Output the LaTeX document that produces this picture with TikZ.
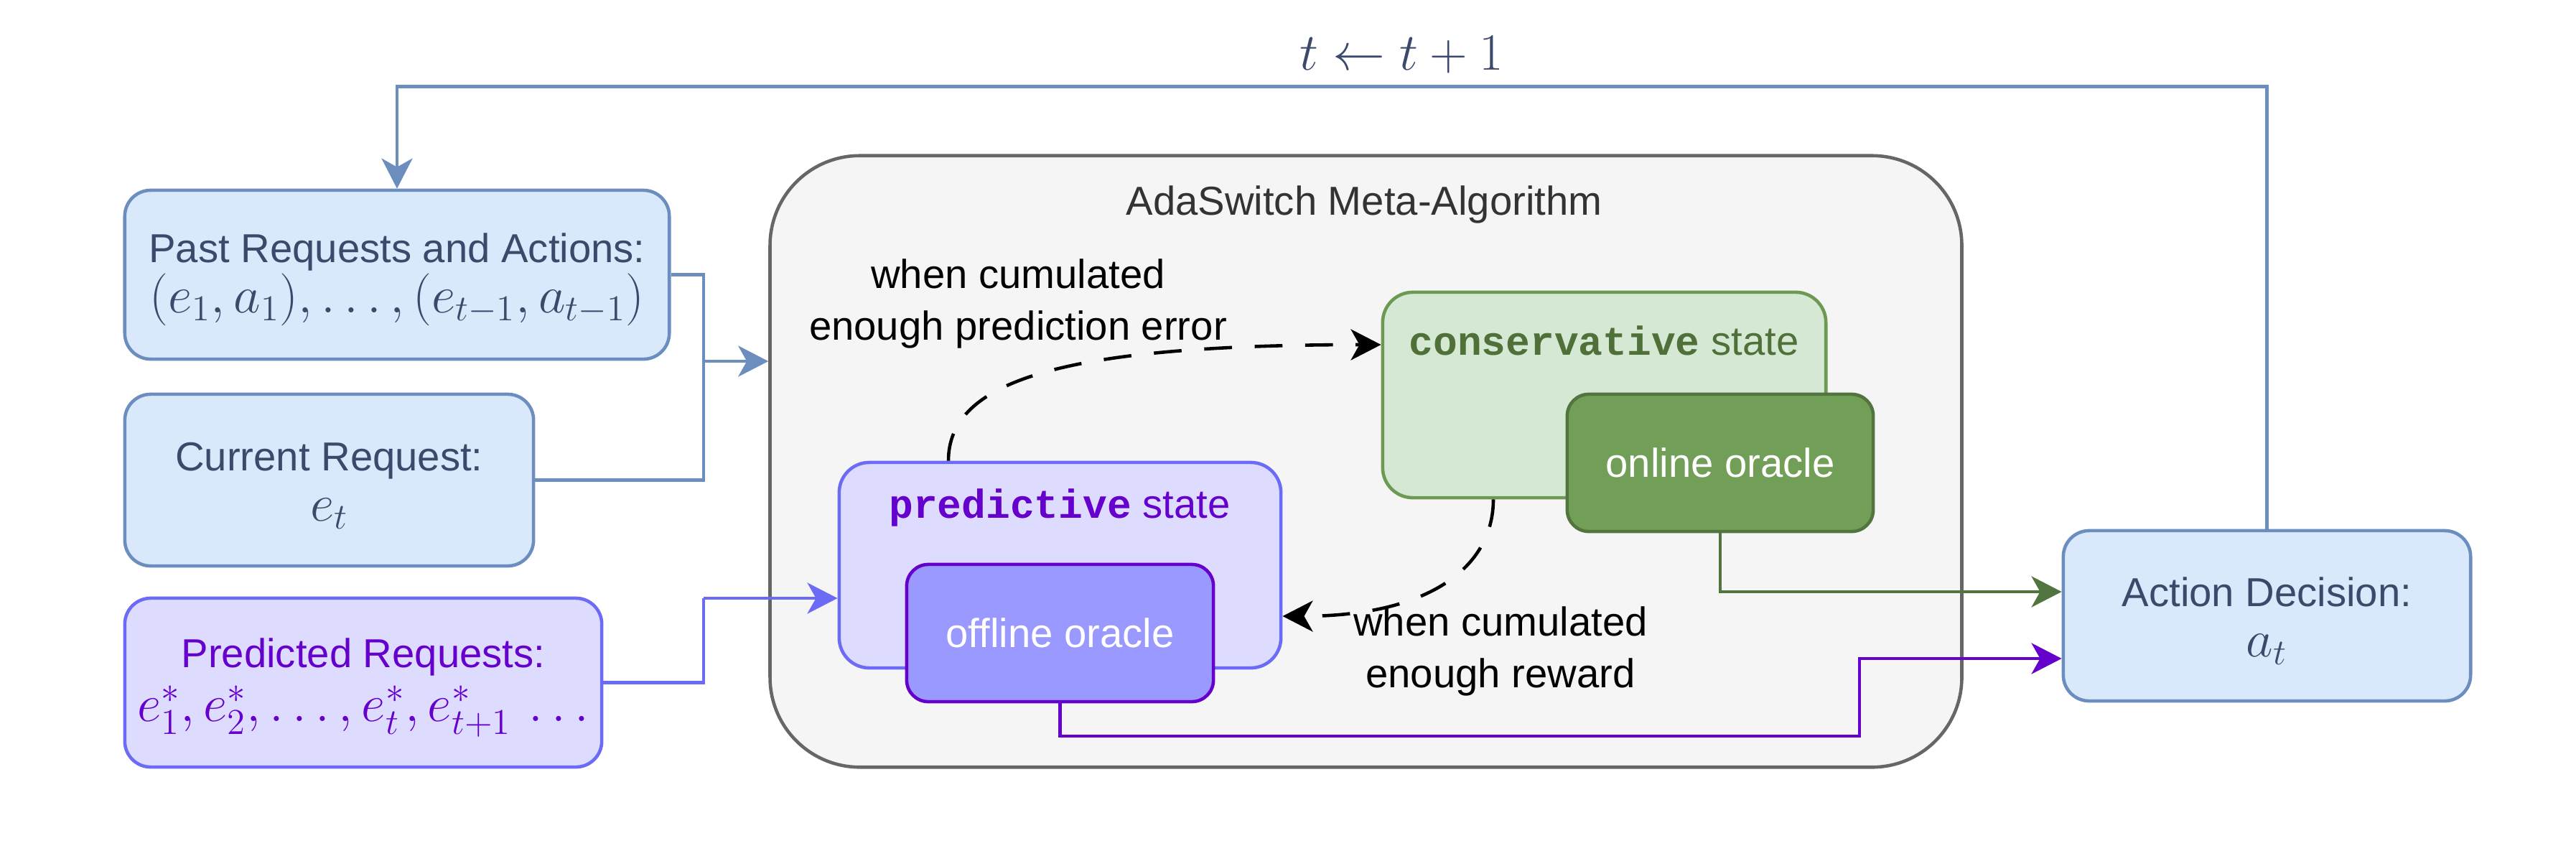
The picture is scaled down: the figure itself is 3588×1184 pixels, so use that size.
\documentclass[tikz,border=0pt]{standalone}
\usepackage[no-math]{fontspec}
\setmainfont{Liberation Sans}
\setmonofont{Liberation Mono}
\usetikzlibrary{arrows.meta,calc}
\definecolor{bfill}{HTML}{DAE8FC}
\definecolor{bstroke}{HTML}{6C8EBF}
\definecolor{btext}{HTML}{3B4A6B}
\definecolor{pfill}{HTML}{DDDCFF}
\definecolor{pstroke}{HTML}{6B6BF5}
\definecolor{ptext}{HTML}{6600CC}
\definecolor{offfill}{HTML}{9999FF}
\definecolor{gfill}{HTML}{D5E8D4}
\definecolor{gstroke}{HTML}{6D9A53}
\definecolor{gtext}{HTML}{4F7039}
\definecolor{onfill}{HTML}{719F58}
\definecolor{onstroke}{HTML}{527540}
\definecolor{cfill}{HTML}{F5F5F5}
\definecolor{cstroke}{HTML}{666666}
\definecolor{ctext}{HTML}{333333}
\newcommand{\mymath}[1]{{\fontsize{20}{24}\selectfont$#1$}}
\newcommand{\topstrut}{\rule{0pt}{15.5pt}}
\tikzset{
  base/.style={line width=1.3pt, align=center, inner sep=0pt, font=\fontsize{16}{20}\selectfont},
  bluebox/.style={base, draw=bstroke, fill=bfill, text=btext, rounded corners=0.36cm},
  purplebox/.style={base, draw=pstroke, fill=pfill, text=ptext, rounded corners=0.36cm},
  greenstate/.style={base, draw=gstroke, fill=gfill, rounded corners=0.42cm},
  purplestate/.style={base, draw=pstroke, fill=pfill, rounded corners=0.42cm},
  onbox/.style={base, draw=onstroke, fill=onfill, text=white, rounded corners=0.3cm},
  offbox/.style={base, draw=ptext, fill=offfill, text=white, rounded corners=0.3cm},
  container/.style={base, draw=cstroke, fill=cfill, rounded corners=1.25cm},
  lbl/.style={align=center, inner sep=0pt, font=\fontsize{16}{20.4}\selectfont},
  tip/.style={-{Stealth[length=4.2mm, width=4.3mm, inset=1.2mm]}},
  conn/.style={line width=1.3pt, tip},
  dasharr/.style={line width=1.3pt, black, dash pattern=on 11pt off 9pt, tip},
}
\begin{document}
\begin{tikzpicture}[x=0.01cm, y=-0.01cm]
\useasboundingbox (0,0) rectangle (3588,1184);

% left inputs
\node[bluebox, minimum width=7.58cm, minimum height=2.35cm] (past) at (553,382.5)
  {\topstrut Past Requests and Actions:\\\mymath{(e_1,a_1),\ldots,(e_{t-1},a_{t-1})}};
\node[bluebox, minimum width=5.69cm, minimum height=2.39cm] (current) at (458.5,668.5)
  {\topstrut Current Request:\\\mymath{e_t}};
\node[purplebox, minimum width=6.64cm, minimum height=2.35cm] (predicted) at (506,950.5)
  {\topstrut Predicted Requests:\\[1.5pt]\mymath{e^*_1,e^*_2,\ldots,e^*_t,e^*_{t+1}\,\ldots}};

% container
\node[container, minimum width=16.59cm, minimum height=8.51cm] (algo) at (1902.5,642.5) {};
\node[lbl, text=ctext] (algotitle) at (1900,285) {AdaSwitch Meta-Algorithm};

% states
\node[greenstate, minimum width=6.17cm, minimum height=2.86cm] (cons) at (2234.5,550) {};
\node[lbl, text=gtext] (constitle) at (2234,474) {{\ttfamily\bfseries conservative} state};
\node[onbox, minimum width=4.26cm, minimum height=1.91cm] (online) at (2396,644.5) {online oracle};

\node[purplestate, minimum width=6.15cm, minimum height=2.86cm] (predictive) at (1476.5,787) {};
\node[lbl, text=ptext] (predtitle) at (1476,707) {{\ttfamily\bfseries predictive} state};
\node[offbox, minimum width=4.27cm, minimum height=1.91cm] (offline) at (1476.5,881.5) {offline oracle};

% action
\node[bluebox, minimum width=5.67cm, minimum height=2.37cm] (action) at (3157.5,857.5)
  {\topstrut Action Decision:\\\mymath{a_t}};

% transition labels
\node[lbl] (labA) at (1418,423) {when cumulated\\enough prediction error};
\node[lbl] (labB) at (2090,907) {when cumulated\\enough reward};

% loop label
\node[lbl, text=btext] (tlabel) at (1952,76) {\mymath{t\leftarrow t+1}};

% coordinates
\coordinate (merge) at (980,503);
\coordinate (predin) at (980,833);
\coordinate (gin) at ($(action.west)+(0,-33.5)$);
\coordinate (pin) at ($(action.west)+(0,59.5)$);
\coordinate (pturn) at (2590,1025);
\coordinate (loopleft) at ($(past.north)+(0,-142)$);

% connectors
\draw[line width=1.3pt, bstroke] (past.east) -| (merge);
\draw[line width=1.3pt, bstroke] (current.east) -| (merge);
\draw[conn, bstroke] (merge) -- (merge -| algo.west);
\draw[line width=1.3pt, pstroke] (predicted.east) -| (predin);
\draw[conn, pstroke] (predin) -- (predin -| predictive.west);
\draw[conn, onstroke] (online.south) |- (gin);
\draw[conn, ptext] (offline.south) |- (pturn) |- (pin);
\draw[conn, bstroke] (action.north) |- (loopleft) -- (past.north);

% dashed transitions
\draw[dasharr] ($(predictive.north)+(-155.5,0)$) .. controls (1321,530) and (1480,480) .. ($(cons.west)+(0,-70)$);
\draw[dasharr] ($(cons.south)+(-154.5,0)$) .. controls (2080,790) and (1990,858) .. ($(predictive.east)+(0,71)$);
\end{tikzpicture}
\end{document}
